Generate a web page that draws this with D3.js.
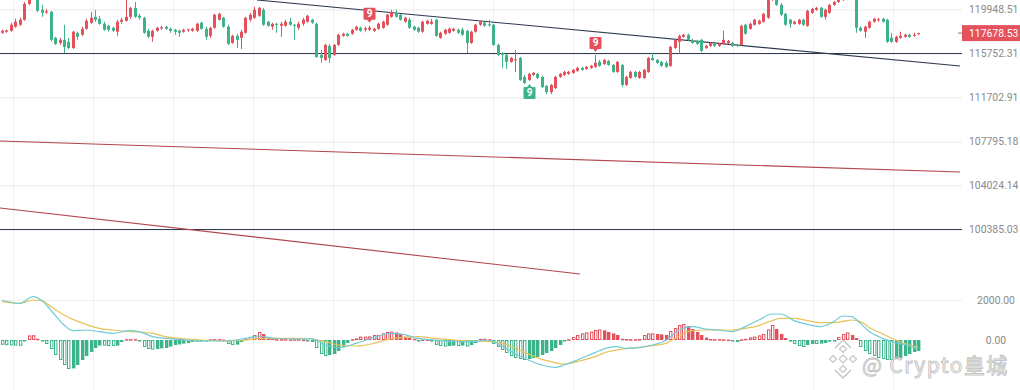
<!DOCTYPE html>
<html><head><meta charset="utf-8">
<script src="https://cdn.jsdelivr.net/npm/d3@7/dist/d3.min.js"></script>
<style>html,body{margin:0;padding:0;background:#fff;overflow:hidden}</style>
</head><body>
<svg id="c" width="1020" height="390"></svg>
<script>
const opens = [117710,117810,117900,118290,118480,118960,120490,121670,122650,119920,119670,119720,117230,116750,117040,116850,116270,117710,117520,118090,118670,119240,119050,118570,118380,118190,117810,118770,118860,119240,120110,119340,119150,117900,117330,117900,118140,118290,118090,118000,117900,117810,117950,117900,117900,118670,118090,117420,118190,118960,119150,118290,116750,117420,117230,117710,118960,119150,119340,119920,118770,118290,118570,118380,118380,118770,118480,118190,118570,118770,118960,118570,115620,115150,116470,115620,116560,117420,117620,117620,118000,118190,118000,118000,117900,118090,118190,118480,119240,119630,119440,118770,118960,118290,118190,117810,118570,118570,118960,117230,117620,117710,117900,118000,118000,117900,116750,117810,118480,118670,118520,118480,116560,115800,115620,114970,115110,115340,113580,113300,113770,113860,113580,112750,112190,112560,113580,113770,113860,113950,114140,114410,114320,114410,114510,114970,114780,115060,114690,114040,114690,112840,113490,114040,113490,113490,114040,115340,115150,114970,114880,114600,116270,116850,117330,117520,117040,116940,117040,116270,116470,116660,116470,116660,116750,116750,116560,116560,118480,118090,118480,118570,118770,119150,120870,121860,120400,119530,118960,118570,118570,118960,118380,119630,119920,120110,119240,119630,120400,120680,120870,122360,123640,121370,118190,117810,118190,118770,118910,119050,118960,117230,116850,117230,117330,117520,117420,117570];
const highs = [118000,118000,118670,119050,119150,120680,121860,123250,123000,120400,120010,119820,117330,117230,118480,117230,117900,117810,118290,119050,119720,119920,119340,118770,118480,118290,118960,119150,120870,120200,120680,119530,119240,118090,118000,118290,118380,118380,118190,118090,118000,118090,118090,118190,118670,118770,118290,118290,119530,119630,119240,118480,117520,117620,118000,119240,119630,120200,120200,120110,118860,118670,118670,118770,118960,119150,118570,118770,119150,119440,119050,118670,116080,116660,116660,116660,117620,117710,117710,118090,118380,118290,118290,118380,118190,118670,118860,119530,119920,119920,119530,119240,119150,118380,118290,118860,118960,119050,119050,117810,118090,118190,118190,118090,118190,118000,117900,118570,118860,118770,118960,118570,116660,115900,115710,115430,116080,115430,113770,113950,114040,113950,113670,112840,112930,113670,113950,114140,114140,114320,114510,114510,114600,114690,115620,115150,115250,115150,114780,115060,114780,113670,114140,114140,114140,114320,115430,115800,115250,115060,115060,116470,117140,117520,117620,117620,117140,117040,117140,116560,116850,116750,116750,117900,117040,116850,116660,118480,118570,118670,119050,118960,119630,121070,122360,122260,120590,119630,119050,118860,119050,119050,119920,120110,120200,120200,120010,120490,120780,121070,122650,124530,124040,121570,118290,118380,118860,119150,119150,119150,119050,117710,117420,117810,117620,117620,117710,117710];
const lows = [117620,117710,117810,118190,118380,118860,120400,121470,119720,119240,119530,116850,116560,116560,115800,116180,116180,117040,117420,118000,118570,118770,118480,117900,117810,117810,117420,118570,118770,119050,119150,118960,117620,117230,116850,117810,118000,118000,117710,117520,117330,117710,117810,117810,117810,118000,117040,117230,118090,118860,118190,116560,116660,116270,116180,117620,118770,119050,119240,118380,118290,118000,117710,117330,118290,118380,117040,118000,118380,118670,118570,115340,114880,115060,114880,115530,116470,117330,117330,117520,117900,117810,117810,117900,117810,118000,118090,118380,119150,119150,118860,118670,118090,117900,117710,117710,118480,118480,117330,117140,117520,117620,117810,117620,117420,115800,116660,117710,118380,118290,118290,116470,115530,114410,114320,114880,114040,113210,112930,113210,113670,113400,112560,112000,112000,112470,113490,113670,113770,113860,114040,114140,114230,114320,114410,114510,114690,114600,113950,113950,112650,112750,113400,113490,113400,113400,113950,115060,114780,114510,114410,114510,116180,115710,117230,116940,116660,116560,115900,116180,116370,116370,116370,116560,116660,116370,116370,116470,117520,118000,118380,118480,118670,119050,120780,120300,119340,118380,118190,118480,118480,118380,118290,119530,119820,119150,118960,119530,120300,120590,120780,122260,121170,117710,117810,117230,118090,118670,118770,118670,116750,116750,116750,117140,117230,117230,117330,117520];
const closes = [117900,117950,118480,118770,118960,120490,121670,122850,119820,119630,119770,117040,116660,117040,116370,116270,117810,117330,118090,118860,119150,118960,118570,118000,118000,117900,118770,118960,119240,120110,119240,119150,117710,117330,117900,118190,118240,118090,117900,117810,117710,118000,118050,118090,118570,118090,117330,118190,119440,119530,118290,116660,117420,117040,117810,119150,119440,119920,120110,118480,118380,118570,118480,118570,118770,118480,118380,118570,118960,119340,118670,115430,115340,116560,115340,116560,117520,117620,117420,118000,118290,117900,118140,118190,118090,118570,118770,119440,119720,119240,118960,119150,118190,118000,117810,118770,118860,118770,117420,117710,118000,118090,118090,117710,117520,116750,117810,118480,118770,118380,118430,116560,115620,115620,114970,115340,115200,113300,113020,113860,113950,113490,112650,112190,112840,113580,113860,114040,114040,114230,114410,114230,114510,114600,114880,114600,115150,114690,114040,114970,112840,113580,114040,113580,114040,114230,115340,115150,114880,114600,114510,116370,117040,117420,117520,117040,116750,116660,115990,116470,116750,116470,116660,117040,116940,116470,116470,118380,117620,118570,118960,118860,119530,120870,122060,120400,119440,118480,118570,118770,118960,118480,119820,120010,120110,119240,119920,120400,120680,120870,122360,123840,121370,118190,117900,118290,118770,119050,119000,118770,116850,116850,117330,117420,117520,117330,117520,117678.53];
const histValues = [-240,-260,-270,-280,-290,-60,230,240,60,-50,-200,-450,-750,-1000,-1250,-1450,-1420,-1250,-1000,-800,-600,-400,-280,-280,-300,-300,-280,-100,40,40,40,-60,-350,-450,-480,-450,-420,-400,-330,-250,-220,-180,-150,-100,-60,-40,-80,40,40,40,20,-200,-250,-230,-100,80,150,250,400,300,150,80,40,40,40,30,40,40,20,-30,-100,-400,-700,-800,-750,-700,-550,-350,-150,40,80,170,170,180,250,250,330,400,420,380,300,170,120,60,-30,30,30,-80,-250,-300,-330,-300,-280,-300,-280,-330,-250,-150,60,60,40,-200,-350,-500,-650,-800,-900,-950,-1000,-950,-900,-850,-750,-650,-550,-400,-250,-60,40,150,250,330,380,420,500,530,480,400,330,250,60,50,40,40,50,250,330,330,300,280,250,450,600,750,800,700,550,400,250,120,50,40,40,30,20,-60,-100,30,60,130,170,230,300,530,750,550,300,100,-80,-200,-300,-350,-250,-200,-200,-180,-150,-80,-30,150,300,380,250,100,-350,-550,-700,-800,-900,-950,-1000,-1000,-950,-900,-800,-700,-600,-550];
const lineIdx = [0,4,7,9,11,14,16,19,22,25,29,31,34,37,40,45,50,55,58,61,66,70,73,76,80,84,88,91,94,98,102,106,110,113,116,119,122,125,127,130,134,137,139,141,144,147,150,153,156,159,162,165,168,171,174,176,179,182,185,188,190,192,194,196,199,202,205,207];
const difValues = [2000,1830,2170,1970,1500,750,470,500,420,330,470,420,170,80,30,-50,-50,80,200,100,50,70,-250,-380,-170,130,330,270,80,0,-80,-80,0,-300,-700,-1000,-1250,-1370,-1250,-1000,-630,-380,-330,-420,-380,-250,-30,500,670,550,500,420,670,1000,1300,1300,970,780,670,920,1200,1170,830,420,80,-130,-280,-470];
const deaValues = [1920,1830,2000,1970,1670,1250,1030,780,580,500,420,400,330,170,80,0,-50,0,70,80,80,50,-80,-250,-300,-170,70,130,170,80,0,-50,-70,-170,-420,-700,-970,-1130,-1200,-1080,-830,-580,-500,-430,-370,-280,-170,200,470,500,500,500,580,720,970,1080,1080,970,870,870,930,1000,920,630,300,0,-250,-350];
const priceTicks = [119948.51,115752.31,111702.91,107795.18,104024.14,100385.03];
const macdTicks = [2000,0];
const lastPrice = 117678.53;
const levelLines = [115752.31,100385.03];
const trendDark = [[57.63,120874],[216.5,114588]];
const trendRed1 = [[-0.45,107838],[216.5,105166]];
const trendRed2 = [[-0.45,102147],[130.6,96834]];
const tdSellIdx = [83,134];
const tdBuyIdx = [119];

const UP = '#e3525c', DN = '#3db389';
const W = 1020, H = 390, PR = 962;
const svg = d3.select('#c');
const x = d3.scaleLinear().domain([0, opens.length - 1]).range([2, 918]);
const y = d3.scaleLog().domain([100385.03, 115752.31]).range([229.5, 53.5]);
const ym = d3.scaleLinear().domain([0, 2000]).range([340, 300]);
const FS = 10.4;

// vertical grid
const gv = svg.append('g');
for (let k = 0; k < 12; k++) {
  const gx = 13.5 + 80 * k;
  gv.append('line').attr('x1', gx).attr('x2', gx).attr('y1', 0).attr('y2', H)
    .attr('stroke', '#f0f0f0').attr('stroke-width', 1);
}
// horizontal grid (price)
svg.append('g').attr('transform', `translate(${PR},0)`)
  .call(d3.axisLeft(y).tickValues(priceTicks).tickSize(PR).tickFormat(''))
  .call(g => g.select('.domain').remove())
  .call(g => g.selectAll('line').attr('stroke', '#e9e9e9'));
svg.append('g').attr('transform', `translate(${PR},0)`)
  .call(d3.axisLeft(ym).tickValues([2000]).tickSize(PR).tickFormat(''))
  .call(g => g.select('.domain').remove())
  .call(g => g.selectAll('line').attr('stroke', '#efefef'));

// clip for main panel
svg.append('clipPath').attr('id', 'mc').append('rect').attr('x', 0).attr('y', 0).attr('width', PR).attr('height', 285);
const main = svg.append('g').attr('clip-path', 'url(#mc)');

// level lines
levelLines.forEach(v => {
  main.append('line').attr('x1', 0).attr('x2', PR).attr('y1', y(v)).attr('y2', y(v))
    .attr('stroke', '#2f3a4f').attr('stroke-width', 1.1);
});
const ln = d3.line().x(d => x(d[0])).y(d => y(d[1]));
main.append('path').attr('d', ln(trendDark)).attr('stroke', '#2f3a4f').attr('stroke-width', 1.1).attr('fill', 'none');
main.append('path').attr('d', ln(trendRed1)).attr('stroke', '#b2454d').attr('stroke-width', 1.1).attr('fill', 'none');
main.append('path').attr('d', ln(trendRed2)).attr('stroke', '#b2454d').attr('stroke-width', 1.1).attr('fill', 'none');

// candles
const cg = main.append('g');
opens.forEach((o, i) => {
  const c = closes[i], up = c >= o, col = up ? UP : DN;
  const cx = Math.round(x(i));
  cg.append('line').attr('x1', cx + 0.5).attr('x2', cx + 0.5)
    .attr('y1', y(highs[i])).attr('y2', y(lows[i])).attr('stroke', col).attr('stroke-width', 1);
  const top = y(Math.max(o, c)), bot = y(Math.min(o, c));
  cg.append('rect').attr('x', cx - 1).attr('width', 3)
    .attr('y', top).attr('height', Math.max(1, bot - top)).attr('fill', col);
});

// TD markers
tdSellIdx.forEach(i => {
  const cx = Math.round(x(i)) + 0.5, yy = y(highs[i]);
  main.append('path').attr('d', `M${cx-3},${yy-7}L${cx+3},${yy-7}L${cx},${yy-3}Z`).attr('fill', UP);
  main.append('rect').attr('x', cx - 6).attr('y', yy - 18).attr('width', 12).attr('height', 12).attr('rx', 1).attr('fill', UP);
  main.append('text').attr('x', cx).attr('y', yy - 8.5).attr('text-anchor', 'middle')
    .attr('font-family', 'Roboto, sans-serif').attr('font-size', 10).attr('font-weight', 'bold').attr('fill', '#fff').text('9');
});
tdBuyIdx.forEach(i => {
  const cx = Math.round(x(i)) + 0.5, yy = y(lows[i]);
  main.append('path').attr('d', `M${cx-3},${yy+7}L${cx+3},${yy+7}L${cx},${yy+3}Z`).attr('fill', DN);
  main.append('rect').attr('x', cx - 6).attr('y', yy + 6).attr('width', 12).attr('height', 12).attr('rx', 1).attr('fill', DN);
  main.append('text').attr('x', cx).attr('y', yy + 15.5).attr('text-anchor', 'middle')
    .attr('font-family', 'Roboto, sans-serif').attr('font-size', 10).attr('font-weight', 'bold').attr('fill', '#fff').text('9');
});

// price axis labels
svg.append('g').attr('transform', `translate(${PR},0)`)
  .call(d3.axisRight(y).tickValues(priceTicks).tickSize(0).tickPadding(7).tickFormat(d3.format('.2f')))
  .call(g => g.select('.domain').remove())
  .call(g => g.selectAll('text').attr('fill', '#8a8a8a').attr('font-size', FS).attr('font-family', 'Roboto, sans-serif'));

// last price box
const ly = y(lastPrice);
svg.append('line').attr('x1', PR - 4).attr('x2', PR).attr('y1', ly).attr('y2', ly).attr('stroke', '#777');
svg.append('rect').attr('x', PR).attr('y', ly - 8).attr('width', W - PR).attr('height', 16).attr('fill', '#e4525d');
svg.append('text').attr('x', PR + 7).attr('y', ly + 4).attr('fill', '#fff').attr('font-size', FS)
  .attr('font-family', 'Roboto, sans-serif').text(d3.format('.2f')(lastPrice));

// MACD histogram
const hg = svg.append('g');
histValues.forEach((v, i) => {
  const prev = i > 0 ? histValues[i - 1] : 0;
  const hollow = Math.abs(v) >= Math.abs(prev);
  const col = v >= 0 ? UP : DN;
  const cx = Math.round(x(i));
  const y0 = ym(0), y1 = ym(v);
  const top = Math.min(y0, y1), h = Math.max(1.5, Math.abs(y1 - y0));
  if (hollow && h > 2) {
    hg.append('rect').attr('x', cx - 0.5).attr('y', top + 0.5).attr('width', 2.4).attr('height', h - 1)
      .attr('fill', '#fff').attr('stroke', col).attr('stroke-width', 1);
  } else {
    hg.append('rect').attr('x', cx - 1).attr('y', top).attr('width', 3.4).attr('height', h).attr('fill', col);
  }
});
// MACD lines
const ml = (vals) => d3.line().curve(d3.curveMonotoneX).x((d, k) => x(lineIdx[k])).y(d => ym(d))(vals);
svg.append('path').attr('d', ml(deaValues)).attr('fill', 'none').attr('stroke', '#e8c35a').attr('stroke-width', 1.2);
svg.append('path').attr('d', ml(difValues)).attr('fill', 'none').attr('stroke', '#6fcbd8').attr('stroke-width', 1.2);

// MACD axis labels
svg.append('g').attr('transform', `translate(${PR},0)`)
  .call(d3.axisRight(ym).tickValues(macdTicks).tickSize(0).tickPadding(34).tickFormat(d3.format('.2f')))
  .call(g => g.select('.domain').remove())
  .call(g => g.selectAll('text').attr('text-anchor', 'middle').attr('fill', '#8a8a8a').attr('font-size', FS).attr('font-family', 'Roboto, sans-serif'));

// watermark
const wm = svg.append('g').attr('opacity', 0.85);
const lx = 843, lyy = 359;
const dia = (cx, cy, r) => `M${cx},${cy-r}L${cx+r},${cy}L${cx},${cy+r}L${cx-r},${cy}Z`;
[[0,0,4],[0,-10,3.5],[0,10,3.5],[-10,0,3.5],[10,0,3.5]].forEach(d => {
  wm.append('path').attr('d', dia(lx + d[0], lyy + d[1], d[2])).attr('fill', '#fff').attr('stroke', '#bdbdbd').attr('stroke-width', 1.2);
});
wm.append('path').attr('d', `M${lx-8},${lyy+11}L${lx},${lyy+19}L${lx+8},${lyy+11}`).attr('fill','none').attr('stroke','#bdbdbd').attr('stroke-width',1.5);
wm.append('path').attr('d', `M${lx-8},${lyy-11}L${lx},${lyy-19}L${lx+8},${lyy-11}`).attr('fill','none').attr('stroke','#bdbdbd').attr('stroke-width',1.5);
wm.append('text').attr('x', 862).attr('y', 373).attr('font-family', '"Noto Sans CJK SC", "Noto Sans", sans-serif')
  .attr('font-size', 21).attr('letter-spacing', 1.4).attr('fill', 'rgba(255,255,255,0.6)').attr('stroke', '#bcbcbc').attr('stroke-width', 1)
  .text('@ Crypto皇城');
</script>
</body></html>
